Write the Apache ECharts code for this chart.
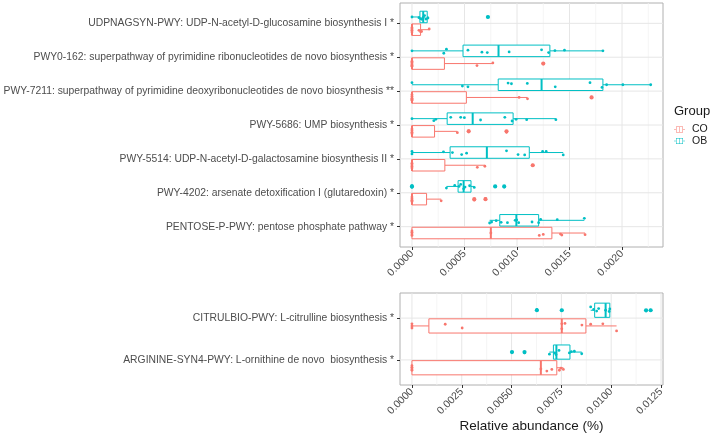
<!DOCTYPE html>
<html><head><meta charset="utf-8">
<script src="https://cdn.jsdelivr.net/npm/echarts@6/dist/echarts.min.js"></script>
<style>html,body{margin:0;padding:0;background:#fff}#c{width:712px;height:436px}</style>
</head><body><div id="c"></div>
<script>
// ---------- categories ----------
const topCats = [
  'UDPNAGSYN-PWY: UDP-N-acetyl-D-glucosamine biosynthesis I *',
  'PWY0-162: superpathway of pyrimidine ribonucleotides de novo biosynthesis *',
  'PWY-7211: superpathway of pyrimidine deoxyribonucleotides de novo biosynthesis **',
  'PWY-5686: UMP biosynthesis *',
  'PWY-5514: UDP-N-acetyl-D-galactosamine biosynthesis II *',
  'PWY-4202: arsenate detoxification I (glutaredoxin) *',
  'PENTOSE-P-PWY: pentose phosphate pathway *'
];
const bottomCats = [
  'CITRULBIO-PWY: L-citrulline biosynthesis *',
  'ARGININE-SYN4-PWY: L-ornithine de novo  biosynthesis *'
];
const groups = ['CO', 'OB'];

// ---------- tick labels ----------
const topTicks = [0, 0.0005, 0.0010, 0.0015, 0.0020];
const topMinor = [0.00025, 0.00075, 0.00125, 0.00175, 0.00225];
const bottomTicks = [0, 0.0025, 0.0050, 0.0075, 0.0100, 0.0125];
const bottomMinor = [0.00125, 0.00375, 0.00625, 0.00875, 0.01125];

// ---------- box statistics [lower whisker, Q1, median, Q3, upper whisker] ----------
const topCOBox = [
  [0, 0, 0, 0.000082, 0.000164],
  [0, 0, 0, 0.000309, 0.00077],
  [0, 0, 0, 0.000518, 0.0011],
  [0, 0, 0, 0.000215, 0.000432],
  [0, 0, 0, 0.000313, 0.000694],
  [0, 0, 0, 0.000139, 0.000278],
  [0, 0, 0.000751, 0.001332, 0.001648]
];
const topOBBox = [
  [0, 0.0000758, 0.000107, 0.000145, 0.000155],
  [0, 0.000486, 0.000824, 0.001313, 0.001818],
  [0, 0.000821, 0.001234, 0.001818, 0.002273],
  [0, 0.000335, 0.000578, 0.000963, 0.00137],
  [0, 0.000363, 0.000713, 0.001117, 0.00144],
  [0.000328, 0.000439, 0.000492, 0.000562, 0.000593],
  [0.000739, 0.000836, 0.000994, 0.001206, 0.001641]
];
const bottomCOBox = [
  [0, 0.00085, 0.00752, 0.00873, 0.01027],
  [0, 0, 0.00647, 0.00727, 0.0076]
];
const bottomOBBox = [
  [0.00897, 0.00917, 0.00972, 0.00993, 0.00993],
  [0.0069, 0.0071, 0.00725, 0.00793, 0.00852]
];

// ---------- outliers ----------
const topCOOut = [[], [0.00125], [0.00171], [0.00054, 0.0009], [0.00115], [0.000593, 0.0007], []];
const topOBOut = [[0.000723], [], [], [], [], [0, 0.000792, 0.000878], []];
const bottomCOOut = [[], []];
const bottomOBOut = [[0.00627, 0.00752, 0.01175, 0.01198], [0.00502, 0.00565]];

const topCOPts = [
  [[0,-0.06],[0,0.02],[0,0.07],[0,-0.02],[0.0000663,0.02],[0.000082,0.06],[0.0000915,0.05],[0.000164,-0.02]],
  [[0,-0.07],[0,-0.03],[0,0.01],[0,0.05],[0,0.08],[0.000619,0.06],[0.00077,-0.02],[0.00125,0.0]],
  [[0,-0.08],[0,-0.03],[0,0.02],[0,0.05],[0,0.08],[0.00102,0.0],[0.0011,0.04],[0.00171,-0.01]],
  [[0,-0.07],[0,-0.02],[0,0.03],[0,0.07],[0.000432,0.04],[0.00054,-0.02],[0.0009,0.03]],
  [[0,-0.06],[0,-0.01],[0,0.04],[0,0.08],[0.000622,0.06],[0.000694,0.03],[0.00115,0.0]],
  [[0,-0.06],[0,-0.01],[0,0.03],[0,0.07],[0.000278,0.05],[0.000593,0.03],[0.0007,-0.02]],
  [[0,-0.06],[0,-0.02],[0,0.03],[0,0.07],[0.000751,0.0],[0.001212,0.07],[0.00125,0.04],[0.001414,0.03],[0.001427,0.06],[0.001648,0.05]]
];
const topOBPts = [
  [[0,0.0],[0.0000663,0.02],[0.000082,0.05],[0.0000947,0.07],[0.000107,0.01],[0.00012,-0.04],[0.000133,0.06],[0.000152,0.03],[0.000723,0.0]],
  [[0,0.0],[0.000303,0.07],[0.000328,-0.05],[0.000533,-0.02],[0.000666,0.04],[0.000717,0.05],[0.000925,0.03],[0.001234,-0.03],[0.001301,0.05],[0.001361,-0.01],[0.001452,-0.02],[0.001818,0.0]],
  [[0,-0.06],[0.00048,0.04],[0.000533,0.06],[0.000915,-0.05],[0.000947,-0.03],[0.001098,-0.04],[0.001364,0.06],[0.001695,-0.06],[0.001809,0.08],[0.001853,0.0],[0.002008,0.0],[0.002273,0.0]],
  [[0,0.0],[0.000208,0.06],[0.000227,0.02],[0.000369,-0.04],[0.000464,-0.04],[0.000499,-0.03],[0.000653,0.04],[0.000884,-0.04],[0.000953,0.07],[0.000991,0.02],[0.001092,0.03],[0.00137,0.03]],
  [[0,-0.03],[0,0.04],[0.0003,-0.02],[0.000385,0.0],[0.000473,0.06],[0.00052,0.02],[0.0009,-0.05],[0.00101,0.06],[0.001073,0.07],[0.001244,-0.03],[0.001278,-0.03],[0.00144,0.07]],
  [[0,-0.02],[0,0.03],[0.000328,0.05],[0.000407,-0.03],[0.000448,0.0],[0.000464,-0.06],[0.000492,0.07],[0.000505,0.02],[0.000549,-0.02],[0.000593,0.03],[0.000792,0.0],[0.000878,0.02]],
  [[0.000739,0.08],[0.000758,0.05],[0.000802,0.01],[0.000849,0.06],[0.000909,0.07],[0.000982,0.0],[0.000997,-0.01],[0.001016,0.07],[0.001143,0.05],[0.001206,0.07],[0.001225,-0.03],[0.001383,-0.02],[0.001641,-0.06]]
];
const bottomCOPts = [
  [[0,-0.05],[0,0.0],[0,0.05],[0.00167,-0.04],[0.00252,0.05],[0.00752,-0.05],[0.00752,0.07],[0.00768,-0.06],[0.00853,-0.02],[0.00897,-0.04],[0.00958,-0.05],[0.01027,0.12]],
  [[0,-0.05],[0,-0.01],[0,0.03],[0,0.06],[0.00647,0.03],[0.00677,0.08],[0.00702,0.04],[0.0074,0.06],[0.00748,0.01],[0.0076,0.04]]
];
const bottomOBPts = [
  [[0.00627,-0.02],[0.00752,0.0],[0.00897,-0.08],[0.00912,-0.02],[0.00927,0.02],[0.00937,-0.04],[0.00972,0.0],[0.0099,0.03],[0.00993,-0.03],[0.01175,0.02],[0.01198,0.0]],
  [[0.00502,0.0],[0.00565,0.02],[0.0069,0.05],[0.00717,0.02],[0.00723,0.06],[0.00738,-0.04],[0.0079,0.02],[0.008,-0.01],[0.00815,-0.02],[0.00852,0.04]]
];

// ---------- styling ----------
const COL = { CO: '#F8766D', OB: '#00BFC4' };
const OFF = { CO: 0.1875, OB: -0.1875 };
const HALF = 0.17;
const LABEL_COL = '#4d4d4d';
const FONT = 'Liberation Sans, Arial, Helvetica, sans-serif';

function gridSeries(xi, xMaj, xMin, nCats) {
  const data = [];
  xMin.forEach(v => data.push([0, v, 1]));
  xMaj.forEach(v => data.push([0, v, 0]));
  for (let i = 1; i <= nCats; i++) data.push([1, i, 0]);
  return {
    type: 'custom', silent: true, xAxisIndex: xi, yAxisIndex: xi, z: 1, clip: false,
    data: data,
    renderItem(params, api) {
      const cs = params.coordSys;
      const o = api.value(0), v = api.value(1), minor = api.value(2) === 1;
      const st = { stroke: minor ? '#f3f3f3' : '#e6e6e6', lineWidth: minor ? 0.8 : 1 };
      if (o === 0) {
        const x = api.coord([v, 1])[0];
        return { type: 'line', shape: { x1: x, y1: cs.y, x2: x, y2: cs.y + cs.height }, style: st };
      }
      const y = api.coord([0, v])[1];
      return { type: 'line', shape: { x1: cs.x, y1: y, x2: cs.x + cs.width, y2: y }, style: st };
    }
  };
}

function boxSeries(g, stats, xi) {
  const color = COL[g], off = OFF[g];
  return {
    type: 'custom', name: g, xAxisIndex: xi, yAxisIndex: xi, z: 3,
    itemStyle: { color: color },
    data: stats.map((s, i) => [i + 1].concat(s)),
    encode: { x: [1, 2, 3, 4, 5], y: 0 },
    renderItem(params, api) {
      const c = api.value(0) + off;
      const h = Math.abs(api.size([0, HALF])[1]);
      const pt = d => api.coord([api.value(d), c]);
      const lo = pt(1), q1 = pt(2), md = pt(3), q3 = pt(4), hi = pt(5);
      const st = { stroke: color, lineWidth: 1, fill: null };
      return { type: 'group', children: [
        { type: 'line', shape: { x1: lo[0], y1: lo[1], x2: q1[0], y2: q1[1] }, style: st },
        { type: 'line', shape: { x1: q3[0], y1: q3[1], x2: hi[0], y2: hi[1] }, style: st },
        { type: 'rect', shape: { x: q1[0], y: q1[1] - h, width: Math.max(q3[0] - q1[0], 0.5), height: 2 * h },
          style: { stroke: color, fill: '#ffffff', lineWidth: 1 } },
        { type: 'line', shape: { x1: md[0], y1: md[1] - h, x2: md[0], y2: md[1] + h }, style: { stroke: color, lineWidth: 2 } }
      ]};
    }
  };
}

function outlierSeries(g, outs, xi) {
  const data = [];
  outs.forEach((arr, i) => arr.forEach(v => data.push([v, i + 1 + OFF[g]])));
  return { type: 'scatter', name: g, xAxisIndex: xi, yAxisIndex: xi, z: 4, silent: true,
    symbolSize: 4.2, itemStyle: { color: COL[g], opacity: 1 }, data: data };
}

function pointSeries(g, pts, xi) {
  const data = [];
  pts.forEach((arr, i) => arr.forEach(p => data.push([p[0], i + 1 + OFF[g] + p[1]])));
  return { type: 'scatter', name: g, xAxisIndex: xi, yAxisIndex: xi, z: 5, silent: true,
    symbolSize: 2.8, itemStyle: { color: COL[g], opacity: 1 }, data: data };
}

function xAxisDef(gi, min, max, ticks, extra) {
  return Object.assign({
    type: 'value', gridIndex: gi, min: min, max: max,
    axisLine: { show: false, onZero: false },
    axisTick: { show: true, customValues: ticks, length: 3, lineStyle: { color: '#333333', width: 1 } },
    axisLabel: { customValues: ticks, rotate: 45, margin: 5, color: LABEL_COL, fontSize: 10.5, fontFamily: FONT,
      formatter: v => Number(v).toFixed(4) },
    splitLine: { show: false }
  }, extra || {});
}

function yAxisDef(gi, cats) {
  const vals = cats.map((c, i) => i + 1);
  return {
    type: 'value', gridIndex: gi, inverse: true, min: 0.4, max: cats.length + 0.6,
    axisLine: { show: false, onZero: false },
    axisTick: { show: true, customValues: vals, length: 3, lineStyle: { color: '#333333', width: 1 } },
    axisLabel: { customValues: vals, margin: 6, color: LABEL_COL, fontSize: 10.35, fontFamily: FONT,
      formatter: v => cats[Math.round(v) - 1] || '' },
    splitLine: { show: false }
  };
}

const ICON = 'path://M4,0H18V12H4Z M5,1V11H17V1Z M10.5,1H11.5V11H10.5Z M0,5.5H4V6.5H0Z M18,5.5H22V6.5H18Z';

const option = {
  animation: false,
  backgroundColor: '#ffffff',
  textStyle: { fontFamily: FONT },
  grid: [
    { left: 400, top: 3, width: 263, height: 244, show: true, borderColor: '#b0b0b0', borderWidth: 1,
      backgroundColor: 'transparent', containLabel: false, outerBoundsMode: 'none' },
    { left: 400, top: 293, width: 263, height: 92, show: true, borderColor: '#b0b0b0', borderWidth: 1,
      backgroundColor: 'transparent', containLabel: false, outerBoundsMode: 'none' }
  ],
  xAxis: [
    xAxisDef(0, -0.000114, 0.00239, topTicks),
    xAxisDef(1, -0.0006, 0.0126, bottomTicks, {
      name: 'Relative abundance (%)', nameLocation: 'middle', nameGap: 33,
      nameTextStyle: { fontSize: 13.5, color: '#1a1a1a', fontFamily: FONT }
    })
  ],
  yAxis: [yAxisDef(0, topCats), yAxisDef(1, bottomCats)],
  legend: {
    orient: 'vertical', left: 674, top: 124, padding: 0, itemWidth: 11, itemHeight: 7, itemGap: 0.5,
    textStyle: { fontSize: 10.5, lineHeight: 11, color: '#1a1a1a', fontFamily: FONT, padding: [0, 0, 0, 2] },
    data: groups.map(g => ({ name: g, icon: ICON }))
  },
  graphic: [
    { type: 'text', left: 674, top: 105, style: { text: 'Group', fontSize: 13, fill: '#1a1a1a', fontFamily: FONT } }
  ],
  series: [
    gridSeries(0, topTicks, topMinor, topCats.length),
    gridSeries(1, bottomTicks, bottomMinor, bottomCats.length),
    boxSeries('CO', topCOBox, 0), boxSeries('OB', topOBBox, 0),
    boxSeries('CO', bottomCOBox, 1), boxSeries('OB', bottomOBBox, 1),
    outlierSeries('CO', topCOOut, 0), outlierSeries('OB', topOBOut, 0),
    outlierSeries('CO', bottomCOOut, 1), outlierSeries('OB', bottomOBOut, 1),
    pointSeries('CO', topCOPts, 0), pointSeries('OB', topOBPts, 0),
    pointSeries('CO', bottomCOPts, 1), pointSeries('OB', bottomOBPts, 1)
  ]
};

const chart = echarts.init(document.getElementById('c'), null, { renderer: 'canvas' });
chart.setOption(option);
</script>
</body></html>
